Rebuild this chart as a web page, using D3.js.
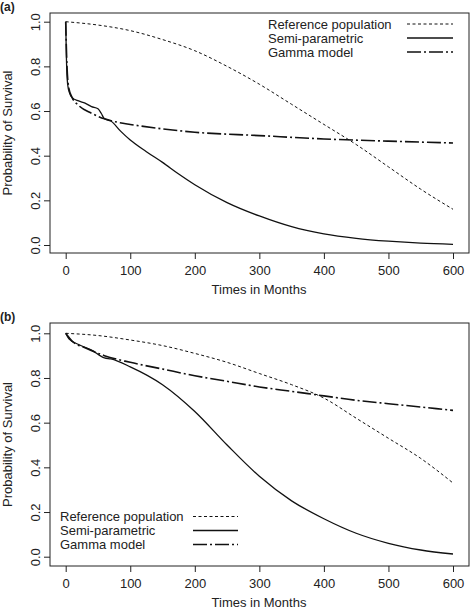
<!DOCTYPE html><html><head><meta charset="utf-8">
<script src="https://cdn.jsdelivr.net/npm/d3@7"></script>
<style>body{margin:0;background:#fff}text{font-family:"Liberation Sans",Arial,sans-serif;fill:#222}</style></head><body>
<svg id="c" width="474" height="611"></svg>
<script>
const xTicks=[0,100,200,300,400,500,600];
const yTicks=[0,0.2,0.4,0.6,0.8,1.0];
const seriesNames=["Reference population","Semi-parametric","Gamma model"];
const refA=[[0,1],[50,0.985],[100,0.96],[150,0.92],[200,0.87],[250,0.8],[300,0.72],[350,0.63],[400,0.54],[450,0.45],[500,0.35],[550,0.25],[600,0.16]];
const semiA=[[0,1],[1,0.85],[3,0.72],[6,0.68],[10,0.66],[20,0.645],[30,0.635],[40,0.62],[50,0.61],[55,0.59],[60,0.565],[70,0.555],[85,0.51],[100,0.47],[125,0.418],[150,0.37],[175,0.318],[200,0.27],[250,0.19],[300,0.13],[350,0.082],[400,0.05],[450,0.03],[500,0.017],[550,0.008],[600,0.003]];
const gamA=[[0,1],[2,0.8],[5,0.7],[10,0.66],[20,0.625],[40,0.59],[60,0.565],[80,0.55],[100,0.54],[150,0.52],[200,0.505],[300,0.49],[400,0.475],[500,0.465],[600,0.457]];
const refB=[[0,1],[50,0.99],[100,0.97],[150,0.945],[200,0.91],[250,0.87],[300,0.82],[350,0.77],[400,0.71],[450,0.62],[500,0.53],[550,0.44],[600,0.33]];
const semiB=[[0,1],[5,0.975],[20,0.95],[40,0.925],[60,0.89],[70,0.885],[100,0.85],[150,0.77],[200,0.65],[250,0.5],[300,0.36],[350,0.25],[400,0.17],[450,0.105],[500,0.06],[550,0.03],[600,0.012]];
const gamB=[[0,1],[10,0.965],[30,0.935],[60,0.9],[100,0.87],[150,0.84],[200,0.81],[250,0.785],[300,0.76],[350,0.74],[400,0.72],[450,0.7],[500,0.685],[550,0.67],[600,0.655]];
const styles=[{dash:"3,2.5",w:1},{dash:null,w:1.3},{dash:"14,3,2,3",w:1.6}];
const svg=d3.select("#c");
function panel(label,box,y1,y0,data,leg){
  const x=d3.scaleLinear().domain([0,600]).range([65.7,453]);
  const y=d3.scaleLinear().domain([0,1]).range([y0,y1]);
  const g=svg.append("g");
  g.append("rect").attr("x",50).attr("y",box[0]).attr("width",419).attr("height",box[1]-box[0]).attr("fill","none").attr("stroke","#222").attr("stroke-width",1);
  const xa=g.append("g").attr("transform",`translate(0,${box[1]})`).call(d3.axisBottom(x).tickValues(xTicks).tickSize(6).tickFormat(d3.format("d")));
  const ya=g.append("g").attr("transform","translate(50,0)").call(d3.axisLeft(y).tickValues(yTicks).tickSize(6).tickFormat(d3.format(".1f")));
  [xa,ya].forEach(a=>{a.select(".domain").remove();a.selectAll("line").attr("stroke","#222");a.selectAll("text").style("font-size","13px").attr("font-family","Liberation Sans, Arial");});
  xa.selectAll("text").attr("dy","1em");
  ya.selectAll(".tick text").each(function(d){d3.select(this).attr("transform",`rotate(-90)`).attr("x",0).attr("y",-10).attr("dy","0").attr("text-anchor","middle");});
  const line=d3.line().x(d=>x(d[0])).y(d=>y(d[1])).curve(d3.curveMonotoneX);
  data.forEach((s,i)=>{g.append("path").attr("d",line(s)).attr("fill","none").attr("stroke","#111").attr("stroke-width",styles[i].w).attr("stroke-dasharray",styles[i].dash);});
  g.append("text").attr("x",259).attr("y",box[1]+41).attr("text-anchor","middle").style("font-size","13px").text("Times in Months");
  g.append("text").attr("transform",`translate(12,${(box[0]+box[1])/2}) rotate(-90)`).attr("text-anchor","middle").style("font-size","13px").text("Probability of Survival");
  g.append("text").attr("x",0).attr("y",box[0]-2).style("font-size","12px").style("font-weight","bold").text(label);
  seriesNames.forEach((n,i)=>{
    const ly=leg.y+i*14;
    g.append("text").attr("x",leg.tx).attr("y",ly+4.5).style("font-size","13px").text(n);
    g.append("line").attr("x1",leg.l1).attr("x2",leg.l2).attr("y1",ly).attr("y2",ly).attr("stroke","#111").attr("stroke-width",styles[i].w).attr("stroke-dasharray",styles[i].dash);
  });
}
panel("(a)",[13,253],21.7,245,[refA,semiA,gamA],{tx:268,y:24,l1:407,l2:453});
panel("(b)",[323,566],333.3,556.7,[refB,semiB,gamB],{tx:60,y:516.5,l1:193,l2:238});
</script></body></html>
